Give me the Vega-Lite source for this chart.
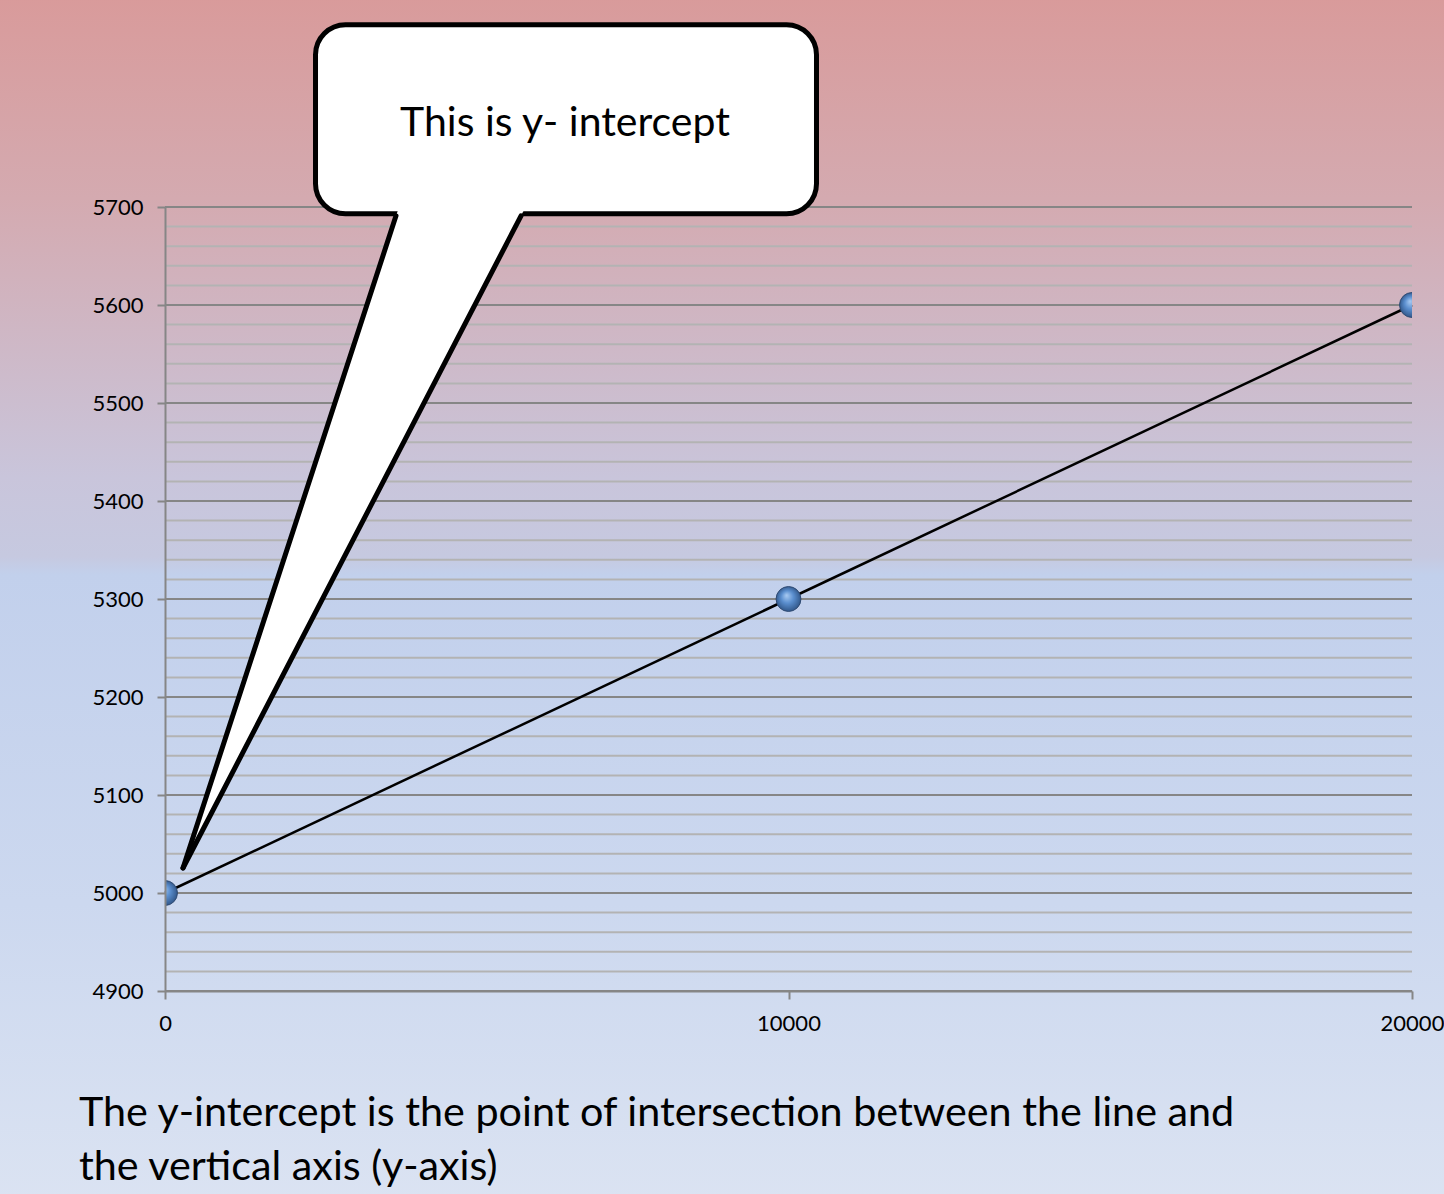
{
  "$schema": "https://vega.github.io/schema/vega-lite/v6.json",
  "description": "Straight line through three points, with a callout marking where it meets the y-axis.",
  "width": 1247,
  "height": 784,
  "autosize": "none",
  "padding": {"left": 165, "top": 207, "right": 32, "bottom": 203},
  "datasets": {
    "points": [
      {"x": 0, "y": 5000},
      {"x": 10000, "y": 5300},
      {"x": 20000, "y": 5600}
    ],
    "grid": [
      {"y": 4900, "kind": "major"}, {"y": 4920, "kind": "minor"}, {"y": 4940, "kind": "minor"}, {"y": 4960, "kind": "minor"}, {"y": 4980, "kind": "minor"},
      {"y": 5000, "kind": "major"}, {"y": 5020, "kind": "minor"}, {"y": 5040, "kind": "minor"}, {"y": 5060, "kind": "minor"}, {"y": 5080, "kind": "minor"},
      {"y": 5100, "kind": "major"}, {"y": 5120, "kind": "minor"}, {"y": 5140, "kind": "minor"}, {"y": 5160, "kind": "minor"}, {"y": 5180, "kind": "minor"},
      {"y": 5200, "kind": "major"}, {"y": 5220, "kind": "minor"}, {"y": 5240, "kind": "minor"}, {"y": 5260, "kind": "minor"}, {"y": 5280, "kind": "minor"},
      {"y": 5300, "kind": "major"}, {"y": 5320, "kind": "minor"}, {"y": 5340, "kind": "minor"}, {"y": 5360, "kind": "minor"}, {"y": 5380, "kind": "minor"},
      {"y": 5400, "kind": "major"}, {"y": 5420, "kind": "minor"}, {"y": 5440, "kind": "minor"}, {"y": 5460, "kind": "minor"}, {"y": 5480, "kind": "minor"},
      {"y": 5500, "kind": "major"}, {"y": 5520, "kind": "minor"}, {"y": 5540, "kind": "minor"}, {"y": 5560, "kind": "minor"}, {"y": 5580, "kind": "minor"},
      {"y": 5600, "kind": "major"}, {"y": 5620, "kind": "minor"}, {"y": 5640, "kind": "minor"}, {"y": 5660, "kind": "minor"}, {"y": 5680, "kind": "minor"},
      {"y": 5700, "kind": "major"}
    ],
    "tail": [
      {"x": 3737, "x2": 5758, "y": 5697},
      {"x": 289, "x2": 289, "y": 5025.5}
    ]
  },
  "layer": [
    {
      "data": {"values": [{}]},
      "mark": {
        "type": "rect",
        "fill": {
          "gradient": "linear", "x1": 0, "y1": 0, "x2": 0, "y2": 1,
          "stops": [
            {"offset": 0, "color": "#D99A9A"},
            {"offset": 0.17, "color": "#D4AAB0"},
            {"offset": 0.4, "color": "#C9C5DB"},
            {"offset": 0.465, "color": "#C6C9E0"},
            {"offset": 0.48, "color": "#C2D0EC"},
            {"offset": 0.75, "color": "#CCD8EF"},
            {"offset": 1, "color": "#DBE3F2"}
          ]
        }
      },
      "encoding": {
        "x": {"datum": -2700, "type": "quantitative", "axis": {"title": null, "zindex": 1}},
        "x2": {"datum": 20600},
        "y": {"datum": 5920, "type": "quantitative", "axis": {"title": null, "zindex": 1}},
        "y2": {"datum": 4680}
      }
    },
    {
      "data": {"name": "grid"},
      "mark": {"type": "rule", "strokeWidth": 2},
      "encoding": {
        "y": {"field": "y", "type": "quantitative", "axis": {"title": null, "zindex": 1}},
        "color": {
          "field": "kind",
          "type": "nominal",
          "scale": {"domain": ["major", "minor"], "range": ["#868686", "#B3B3B3"]},
          "legend": null
        }
      }
    },
    {
      "data": {"name": "points"},
      "mark": {"type": "line", "color": "black", "strokeWidth": 2.5},
      "encoding": {
        "x": {
          "field": "x",
          "type": "quantitative",
          "scale": {"domain": [0, 20000], "nice": false, "zero": false},
          "axis": {"title": null, "zindex": 1, "values": [0, 10000, 20000], "format": "d", "labelFlush": false, "labelPadding": 14}
        },
        "y": {
          "field": "y",
          "type": "quantitative",
          "scale": {"domain": [4900, 5700], "nice": false, "zero": false},
          "axis": {"title": null, "zindex": 1, "values": [4900, 5000, 5100, 5200, 5300, 5400, 5500, 5600, 5700], "format": "d", "labelPadding": 14}
        }
      }
    },
    {
      "data": {"name": "points"},
      "mark": {
        "type": "point",
        "filled": true,
        "clip": true,
        "size": 620,
        "opacity": 1,
        "stroke": "#2F4A72",
        "strokeWidth": 1,
        "fill": {
          "gradient": "radial", "x1": 0.42, "y1": 0.35, "r1": 0, "x2": 0.5, "y2": 0.5, "r2": 0.55,
          "stops": [
            {"offset": 0, "color": "#A9CBF2"},
            {"offset": 0.45, "color": "#5B8FCF"},
            {"offset": 1, "color": "#2B4F80"}
          ]
        }
      },
      "encoding": {
        "x": {"field": "x", "type": "quantitative", "axis": {"title": null, "zindex": 1}},
        "y": {"field": "y", "type": "quantitative", "axis": {"title": null, "zindex": 1}}
      }
    },
    {
      "data": {"values": [{}]},
      "mark": {"type": "rect", "fill": "white", "stroke": "black", "strokeWidth": 5, "cornerRadius": 30},
      "encoding": {
        "x": {"datum": 2414, "type": "quantitative", "axis": {"title": null, "zindex": 1}},
        "x2": {"datum": 10449},
        "y": {"datum": 5886, "type": "quantitative", "axis": {"title": null, "zindex": 1}},
        "y2": {"datum": 5693}
      }
    },
    {
      "data": {"name": "tail"},
      "mark": {"type": "area", "orient": "horizontal", "fill": "white", "opacity": 1},
      "encoding": {
        "y": {"field": "y", "type": "quantitative", "axis": {"title": null, "zindex": 1}},
        "x": {"field": "x", "type": "quantitative", "axis": {"title": null, "zindex": 1}, "stack": null},
        "x2": {"field": "x2"}
      }
    },
    {
      "data": {"values": [{}]},
      "mark": {"type": "rule", "color": "black", "strokeWidth": 5, "strokeCap": "round"},
      "encoding": {
        "x": {"datum": 3705, "type": "quantitative", "axis": {"title": null, "zindex": 1}},
        "x2": {"datum": 289},
        "y": {"datum": 5691, "type": "quantitative", "axis": {"title": null, "zindex": 1}},
        "y2": {"datum": 5025.5}
      }
    },
    {
      "data": {"values": [{}]},
      "mark": {"type": "rule", "color": "black", "strokeWidth": 5, "strokeCap": "round"},
      "encoding": {
        "x": {"datum": 5710, "type": "quantitative", "axis": {"title": null, "zindex": 1}},
        "x2": {"datum": 289},
        "y": {"datum": 5691, "type": "quantitative", "axis": {"title": null, "zindex": 1}},
        "y2": {"datum": 5025.5}
      }
    },
    {
      "data": {"values": [{"label": "This is y- intercept"}]},
      "mark": {"type": "text", "font": "Lato", "fontSize": 41, "color": "black", "align": "center", "baseline": "middle"},
      "encoding": {
        "x": {"datum": 6415, "type": "quantitative", "axis": {"title": null, "zindex": 1}},
        "y": {"datum": 5785, "type": "quantitative", "axis": {"title": null, "zindex": 1}},
        "text": {"field": "label"}
      }
    },
    {
      "data": {"values": [{"caption": ["The y-intercept is the point of intersection between the line and", "the vertical axis (y-axis)"]}]},
      "mark": {"type": "text", "font": "Lato", "fontSize": 41.3, "color": "black", "align": "left", "baseline": "alphabetic", "lineHeight": 54},
      "encoding": {
        "x": {"datum": -1379, "type": "quantitative", "axis": {"title": null, "zindex": 1}},
        "y": {"datum": 4762, "type": "quantitative", "axis": {"title": null, "zindex": 1}},
        "text": {"field": "caption"}
      }
    }
  ],
  "config": {
    "view": {"stroke": null},
    "axis": {
      "grid": false,
      "labelFont": "Lato",
      "labelFontSize": 22,
      "labelColor": "black",
      "domainColor": "#868686",
      "domainWidth": 2,
      "tickColor": "#868686",
      "tickWidth": 2,
      "tickSize": 8
    }
  }
}
